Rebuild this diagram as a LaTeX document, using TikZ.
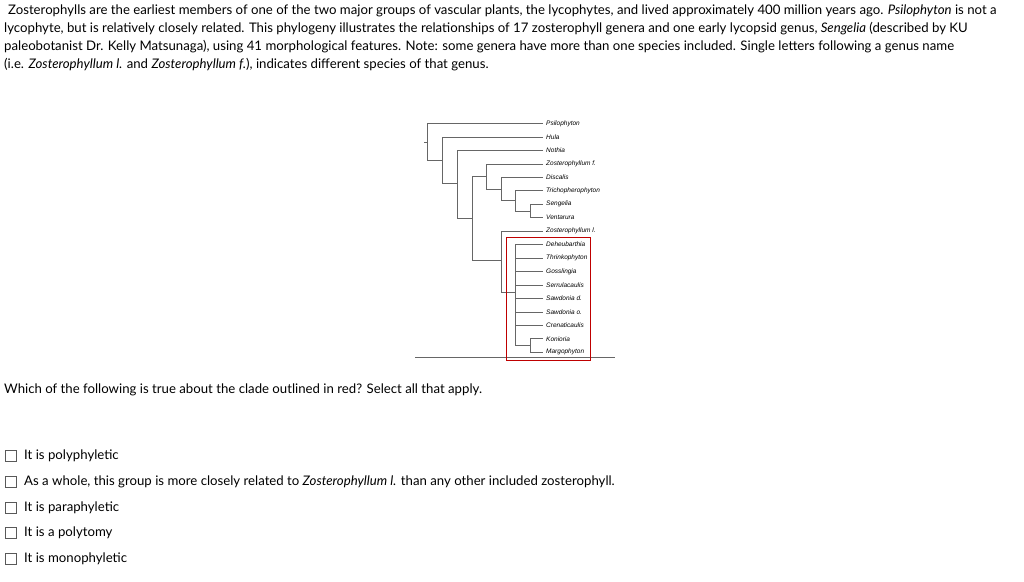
\documentclass[tikz,border=0pt]{standalone}
\usepackage{fontspec}
\setmainfont{Lato}
\newfontfamily\treefont{Liberation Sans}
\begin{document}
\begin{tikzpicture}[x=1pt,y=-1pt,
  para/.style={anchor=base west,inner sep=0,font=\fontsize{13.2}{15}\selectfont},
  leaf/.style={anchor=west,inner sep=0,font=\treefont\itshape\fontsize{6.5}{7}\selectfont},
  br/.style={draw=gray!80!black,line width=0.6pt},
  cbox/.style={draw=gray!70!black,line width=0.6pt,minimum size=11pt,inner sep=0}]
\useasboundingbox (0,0) rectangle (1024,581);
\node[para] (p1) at (8,14) {Zosterophylls are the earliest members of one of the two major groups of vascular plants, the lycophytes, and lived approximately 400 million years ago. \textit{Psilophyton} is not a};
\node[para] (p2) at (4,32) {lycophyte, but is relatively closely related. This phylogeny illustrates the relationships of 17 zosterophyll genera and one early lycopsid genus, \textit{Sengelia} (described by KU};
\node[para] (p3) at (4,50) {paleobotanist Dr. Kelly Matsunaga), using 41 morphological features. Note: some genera have more than one species included. Single letters following a genus name};
\node[para] (p4) at (4,68) {(i.e. \textit{Zosterophyllum l.} and \textit{Zosterophyllum f.}), indicates different species of that genus.};
\node[para] (q) at (4,393) {Which of the following is true about the clade outlined in red? Select all that apply.};
\foreach \t [count=\i] in {It is polyphyletic,{As a whole, this group is more closely related to \textit{Zosterophyllum l.} than any other included zosterophyll.},It is paraphyletic,It is a polytomy,It is monophyletic}{
  \node[cbox] (c\i) at (11,{456+(\i-1)*25.7}) {};
  \node[para,anchor=west] (a\i) at (24,{456+(\i-1)*25.7}) {\t};
}
% leaves
\foreach \n [count=\i] in {Psilophyton,Hula,Nothia,Zosterophyllum f.,Discalis,Trichopherophyton,Sengelia,Ventarura,Zosterophyllum l.,Deheubarthia,Thrinkophyton,Gosslingia,Serrulacaulis,Sawdonia d.,Sawdonia o.,Crenaticaulis,Konioria,Margophyton}{
  \coordinate (t\i) at (543,{123.5+(\i-1)*13.45});
  \node[leaf] (l\i) at (546,{123.5+(\i-1)*13.45}) {\n};
}
% tree
\draw[br] (t1) -| (427,160) -- (442,160);
\draw[br] (424,142) -- (427,142);
\draw[br] (t2) -| (442,183) -- (457,183);
\draw[br] (t3) -| (457,218) -- (472,218);
\draw[br] (486,176) -| (472,260) -- (501,260);
\draw[br] (t4) -| (486,189) -- (501,189);
\draw[br] (t5) -| (501,200) -- (515,200);
\draw[br] (t6) -| (515,211) -- (530,211);
\draw[br] (t7) -| (530,0|-t8) -- (t8);
\draw[br] (t9) -| (501,292) -- (515,292);
\draw[br] (515,0|-t10) -- (515,345) -- (530,345);
\foreach \i in {10,...,16}{\draw[br] (515,0|-t\i) -- (t\i);}
\draw[br] (t17) -| (530,0|-t18) -- (t18);
\draw[br] (415,357) -- (615,357);
\draw[draw=red!75!black,line width=1pt] (506,237) rectangle (590,360);
\end{tikzpicture}
\end{document}
